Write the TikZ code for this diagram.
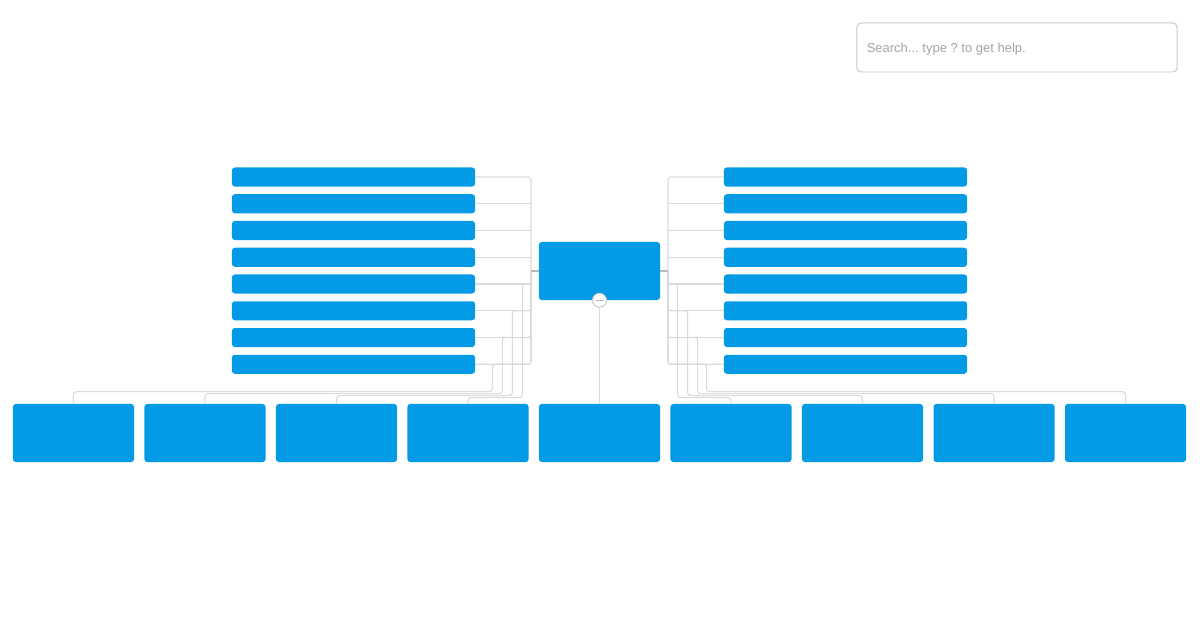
\documentclass[tikz,border=0pt]{standalone}
\usepackage{fontspec}
\newfontfamily\uifont{Liberation Sans}
\usetikzlibrary{positioning,calc}
\definecolor{nodeblue}{RGB}{3,155,229}
\definecolor{linkgray}{RGB}{218,218,218}
\definecolor{hubgray}{RGB}{185,185,185}
\definecolor{framegray}{RGB}{200,200,200}
\definecolor{hintgray}{RGB}{165,165,165}
\frenchspacing

\begin{document}
\begin{tikzpicture}[
    x=0.025cm, y=-0.025cm,
    topic/.style={rounded corners=2pt, fill=nodeblue, inner sep=0pt,
        minimum width=6.075cm, minimum height=0.475cm},
    block/.style={rounded corners=2pt, fill=nodeblue, inner sep=0pt,
        minimum width=3.025cm, minimum height=1.45cm},
    link/.style={draw=linkgray, line width=0.75pt},
    hublink/.style={draw=hubgray, line width=0.75pt},
    toggle/.style={circle, fill=white, draw=framegray, line width=0.7pt,
        minimum size=0.35cm, inner sep=0pt},
    searchbox/.style={rounded corners=3pt, draw=framegray, fill=white, line width=0.7pt,
        minimum width=8cm, minimum height=1.225cm},
    hint/.style={font=\uifont\fontsize{9.25}{11}\selectfont, text=hintgray, inner sep=0pt},
]
\useasboundingbox (0,0) rectangle (1200,630);

% === SEARCH BAR ===
\node[searchbox] (search) at (1017, 47.5) {};
\node[hint, anchor=base west] (hint) at ([xshift=0.25cm, yshift=-0.125cm]search.west) {Search... type ? to get help.};

% === CENTRAL TOPIC ===
\node[block] (hub) at (599.5, 271) {};
\coordinate (busL) at (531, 271);
\coordinate (busR) at (668, 271);

% === LEFT TOPICS ===
\node[topic] (l1) at (353.5, 177) {};
\node[topic] (l2) at (353.5, 203.75) {};
\node[topic] (l3) at (353.5, 230.5) {};
\node[topic] (l4) at (353.5, 257.25) {};
\node[topic] (l5) at (353.5, 284) {};
\node[topic] (l6) at (353.5, 310.75) {};
\node[topic] (l7) at (353.5, 337.5) {};
\node[topic] (l8) at (353.5, 364.25) {};

% === RIGHT TOPICS ===
\node[topic] (r1) at (845.5, 177) {};
\node[topic] (r2) at (845.5, 203.75) {};
\node[topic] (r3) at (845.5, 230.5) {};
\node[topic] (r4) at (845.5, 257.25) {};
\node[topic] (r5) at (845.5, 284) {};
\node[topic] (r6) at (845.5, 310.75) {};
\node[topic] (r7) at (845.5, 337.5) {};
\node[topic] (r8) at (845.5, 364.25) {};

% === BOTTOM TOPICS ===
\node[block] (b1) at (73.5, 433) {};
\node[block] (b2) at (205, 433) {};
\node[block] (b3) at (336.5, 433) {};
\node[block] (b4) at (468, 433) {};
\node[block] (b5) at (599.5, 433) {};
\node[block] (b6) at (731, 433) {};
\node[block] (b7) at (862.5, 433) {};
\node[block] (b8) at (994, 433) {};
\node[block] (b9) at (1125.5, 433) {};

% === LEFT LINKS ===
\draw[link, rounded corners=2pt] (l1.east) -| (busL) |- (l8.east);
\draw[link] (l2.east) -- (l2.east -| busL);
\draw[link] (l3.east) -- (l3.east -| busL);
\draw[link] (l4.east) -- (l4.east -| busL);
\draw[link] (l5.east) -- (l5.east -| busL);
\draw[link] (l6.east) -- (l6.east -| busL);
\draw[link] (l7.east) -- (l7.east -| busL);
\draw[link, rounded corners=2pt] (hub.west) -- (busL) |- ($(l5.east)+(47,0)$) |- ($(b4.north)+(0,-6)$) -- (b4.north);
\draw[link, rounded corners=2pt] (hub.west) -- (busL) |- ($(l6.east)+(37,0)$) |- ($(b3.north)+(0,-8)$) -- (b3.north);
\draw[link, rounded corners=2pt] (hub.west) -- (busL) |- ($(l7.east)+(27,0)$) |- ($(b2.north)+(0,-10)$) -- (b2.north);
\draw[link, rounded corners=2pt] (hub.west) -- (busL) |- ($(l8.east)+(17,0)$) |- ($(b1.north)+(0,-12)$) -- (b1.north);
\draw[hublink] (hub.west) -- (busL);

% === RIGHT LINKS ===
\draw[link, rounded corners=2pt] (r1.west) -| (busR) |- (r8.west);
\draw[link] (r2.west) -- (r2.west -| busR);
\draw[link] (r3.west) -- (r3.west -| busR);
\draw[link] (r4.west) -- (r4.west -| busR);
\draw[link] (r5.west) -- (r5.west -| busR);
\draw[link] (r6.west) -- (r6.west -| busR);
\draw[link] (r7.west) -- (r7.west -| busR);
\draw[link, rounded corners=2pt] (hub.east) -- (busR) |- ($(r5.west)+(-46,0)$) |- ($(b6.north)+(0,-6)$) -- (b6.north);
\draw[link, rounded corners=2pt] (hub.east) -- (busR) |- ($(r6.west)+(-36,0)$) |- ($(b7.north)+(0,-8)$) -- (b7.north);
\draw[link, rounded corners=2pt] (hub.east) -- (busR) |- ($(r7.west)+(-26,0)$) |- ($(b8.north)+(0,-10)$) -- (b8.north);
\draw[link, rounded corners=2pt] (hub.east) -- (busR) |- ($(r8.west)+(-17,0)$) |- ($(b9.north)+(0,-12)$) -- (b9.north);
\draw[hublink] (hub.east) -- (busR);

% === FOLD TOGGLE ===
\draw[link] (hub.south) -- (b5.north);
\node[toggle] (fold) at (hub.south) {};
\draw[hublink] ($(fold.center)+(-4,0)$) -- ($(fold.center)+(4,0)$);

\end{tikzpicture}
\end{document}
